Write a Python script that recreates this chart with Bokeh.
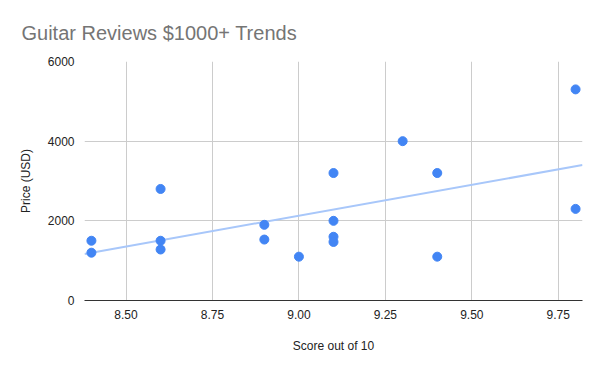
import numpy as np
from bokeh.plotting import figure
from bokeh.models import FixedTicker, NumeralTickFormatter, Range1d
from bokeh.embed import file_html
from bokeh.resources import INLINE

score = [8.4, 8.4, 8.6, 8.6, 8.6, 8.9, 8.9, 9.0, 9.1, 9.1, 9.1, 9.1, 9.3, 9.4, 9.4, 9.8, 9.8]
price = [1500, 1200, 2800, 1500, 1280, 1900, 1530, 1100, 3200, 2000, 1600, 1470, 4000, 3200, 1100, 5300, 2300]
x_ticks = [8.5, 8.75, 9.0, 9.25, 9.5, 9.75]
y_ticks = [0, 2000, 4000, 6000]
title_text = "Guitar Reviews $1000+ Trends"

FONT = "Liberation Sans"
x0, x1 = 8.38, 9.82

p = figure(width=600, height=371, x_range=Range1d(x0, x1), y_range=Range1d(0, 6000),
           output_backend="svg", toolbar_location=None,
           min_border_left=84, min_border_right=18, min_border_top=61, min_border_bottom=71)
p.outline_line_color = None
p.background_fill_color = "white"

slope, intercept = np.polyfit(score, price, 1)
tx = np.array([x0, x1])
p.line(tx, slope * tx + intercept, line_color="#a8c7fa", line_width=2)
p.scatter(score, price, size=9, fill_color="#4285f4", line_color="#4285f4")

for ax in (p.xaxis[0], p.yaxis[0]):
    ax.major_tick_line_color = None
    ax.minor_tick_line_color = None
    ax.major_label_text_font = FONT
    ax.major_label_text_font_size = "12px"
    ax.major_label_text_color = "#222222"
    ax.axis_label_text_font = FONT
    ax.axis_label_text_font_size = "12px"
    ax.axis_label_text_font_style = "normal"
    ax.axis_label_text_color = "#222222"

p.xaxis.ticker = FixedTicker(ticks=x_ticks)
p.xaxis.formatter = NumeralTickFormatter(format="0.00")
p.xaxis.axis_line_color = "#333333"
p.xaxis.major_label_standoff = 3
p.xaxis.axis_label = "Score out of 10"
p.xaxis.axis_label_standoff = 17

p.yaxis.ticker = FixedTicker(ticks=y_ticks)
p.yaxis.formatter = NumeralTickFormatter(format="0")
p.yaxis.axis_line_color = None
p.yaxis.major_label_standoff = 4
p.yaxis.axis_label = "Price (USD)"
p.yaxis.axis_label_standoff = 12

p.xgrid.ticker = FixedTicker(ticks=x_ticks)
p.ygrid.ticker = FixedTicker(ticks=y_ticks)
p.xgrid.grid_line_color = "#cccccc"
p.ygrid.grid_line_color = "#cccccc"

p.title.text = title_text
p.title.text_font = FONT
p.title.text_font_size = "20px"
p.title.text_font_style = "normal"
p.title.text_color = "#757575"
p.title.offset = -63
p.title.standoff = 35

open("out.html", "w").write(file_html(p, INLINE))
